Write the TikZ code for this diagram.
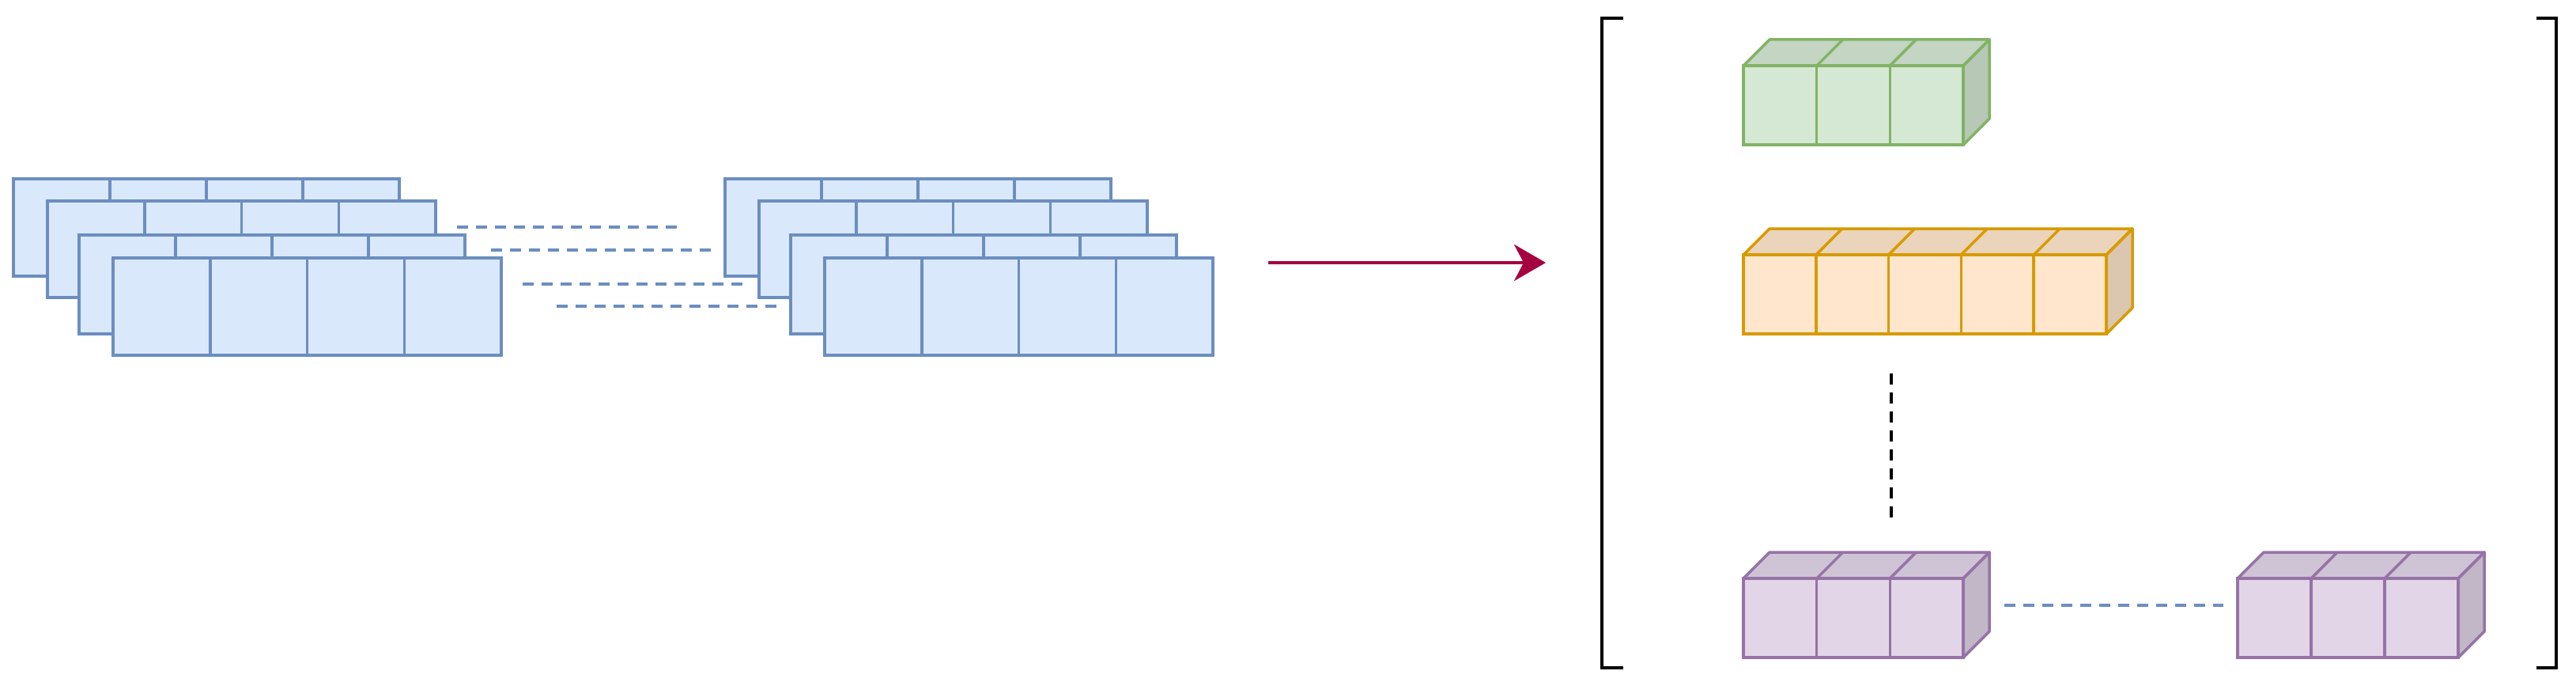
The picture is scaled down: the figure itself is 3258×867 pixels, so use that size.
\documentclass[tikz,border=0pt]{standalone}
\usetikzlibrary{arrows.meta}
\definecolor{bfill}{HTML}{DAE8FC}\definecolor{bline}{HTML}{6C8EBF}
\definecolor{gfill}{HTML}{D5E8D4}\definecolor{gline}{HTML}{82B366}
\definecolor{ofill}{HTML}{FFE6CC}\definecolor{oline}{HTML}{D79B00}
\definecolor{pfill}{HTML}{E1D5E7}\definecolor{pline}{HTML}{9673A6}
\definecolor{arr}{HTML}{A50040}
\tikzset{lw/.style={line width=3.5pt},
 dsh/.style={lw,draw=bline,dash pattern=on 14pt off 10pt},
 sheet/.style={lw,draw=bline,fill=bfill}}
% sheet: x0 y0 x1 y1
\newcommand{\mysheet}[4]{%
 \filldraw[sheet] (#1,#2) rectangle (#3,#4);
 \foreach \k in {1,2,3}{\draw[lw,draw=bline] ({#1+\k*(#3-#1)/4},#2) -- ({#1+\k*(#3-#1)/4},#4);}}
% cube row: x y n w h d fill line
\newcommand{\myrow}[8]{%
 \pgfmathsetmacro\xe{#1+#3*#4}%
 \filldraw[lw,draw=#8,fill=#7!92!black,line join=round] (#1,#2) -- ++(#6,-#6) -- ({\xe+#6},{#2-#6}) -- (\xe,#2) -- cycle;
 \filldraw[lw,draw=#8,fill=#7!86!black,line join=round] (\xe,#2) -- ({\xe+#6},{#2-#6}) -- ({\xe+#6},{#2+#5-#6}) -- (\xe,{#2+#5}) -- cycle;
 \filldraw[lw,draw=#8,fill=#7] (#1,#2) rectangle (\xe,{#2+#5});
 \foreach \k in {1,...,#3}{\draw[lw,draw=#8] ({#1+\k*#4},#2) -- ++(#6,-#6);}
 \foreach \k in {1,...,#3}{\ifnum\k<#3\relax\draw[lw,draw=#8] ({#1+\k*#4},#2) -- ({#1+\k*#4},{#2+#5});\fi}}
\begin{document}
\begin{tikzpicture}[x=1pt,y=-1pt]
\useasboundingbox (0,0) rectangle (3258,867);
\mysheet{17}{226}{505}{349}\mysheet{60}{254}{551}{376}
\mysheet{100}{297}{588}{422}\mysheet{143}{326}{634}{449}
\coordinate (d1a) at (578,287);\coordinate (d1b) at (856,287);
\coordinate (d2a) at (621,316);\coordinate (d2b) at (900,316);
\coordinate (d3a) at (661,359);\coordinate (d3b) at (939,359);
\coordinate (d4a) at (704,387);\coordinate (d4b) at (983,387);
\foreach \i in {1,...,4}{\draw[dsh] (d\i a) -- (d\i b);}
\mysheet{917}{226}{1405}{349}\mysheet{960}{254}{1451}{376}
\mysheet{1000}{297}{1488}{422}\mysheet{1043}{326}{1534}{449}
\coordinate (a1) at (1604,332);\coordinate (a2) at (1955,332);
\draw[line width=4.5pt,arr,-{Stealth[length=40pt,width=46pt,inset=12pt]}] (a1) -- (a2);
\draw[line width=4.5pt] (2053,23) -- (2026,23) -- (2026,844) -- (2053,844);
\draw[line width=4.5pt] (3208,23) -- (3233,23) -- (3233,844) -- (3208,844);
\myrow{2205}{83}{3}{92.7}{100}{33}{gfill}{gline}
\myrow{2205}{322}{5}{91.8}{100}{33}{ofill}{oline}
\myrow{2205}{731}{3}{92.7}{100}{33}{pfill}{pline}
\myrow{2830}{731}{3}{93}{100}{33}{pfill}{pline}
\coordinate (v1) at (2392,472);\coordinate (v2) at (2392,657);
\draw[line width=4.5pt,dash pattern=on 14pt off 10pt] (v1) -- (v2);
\coordinate (h1) at (2535,765);\coordinate (h2) at (2812,765);
\draw[dsh] (h1) -- (h2);
\end{tikzpicture}
\end{document}
